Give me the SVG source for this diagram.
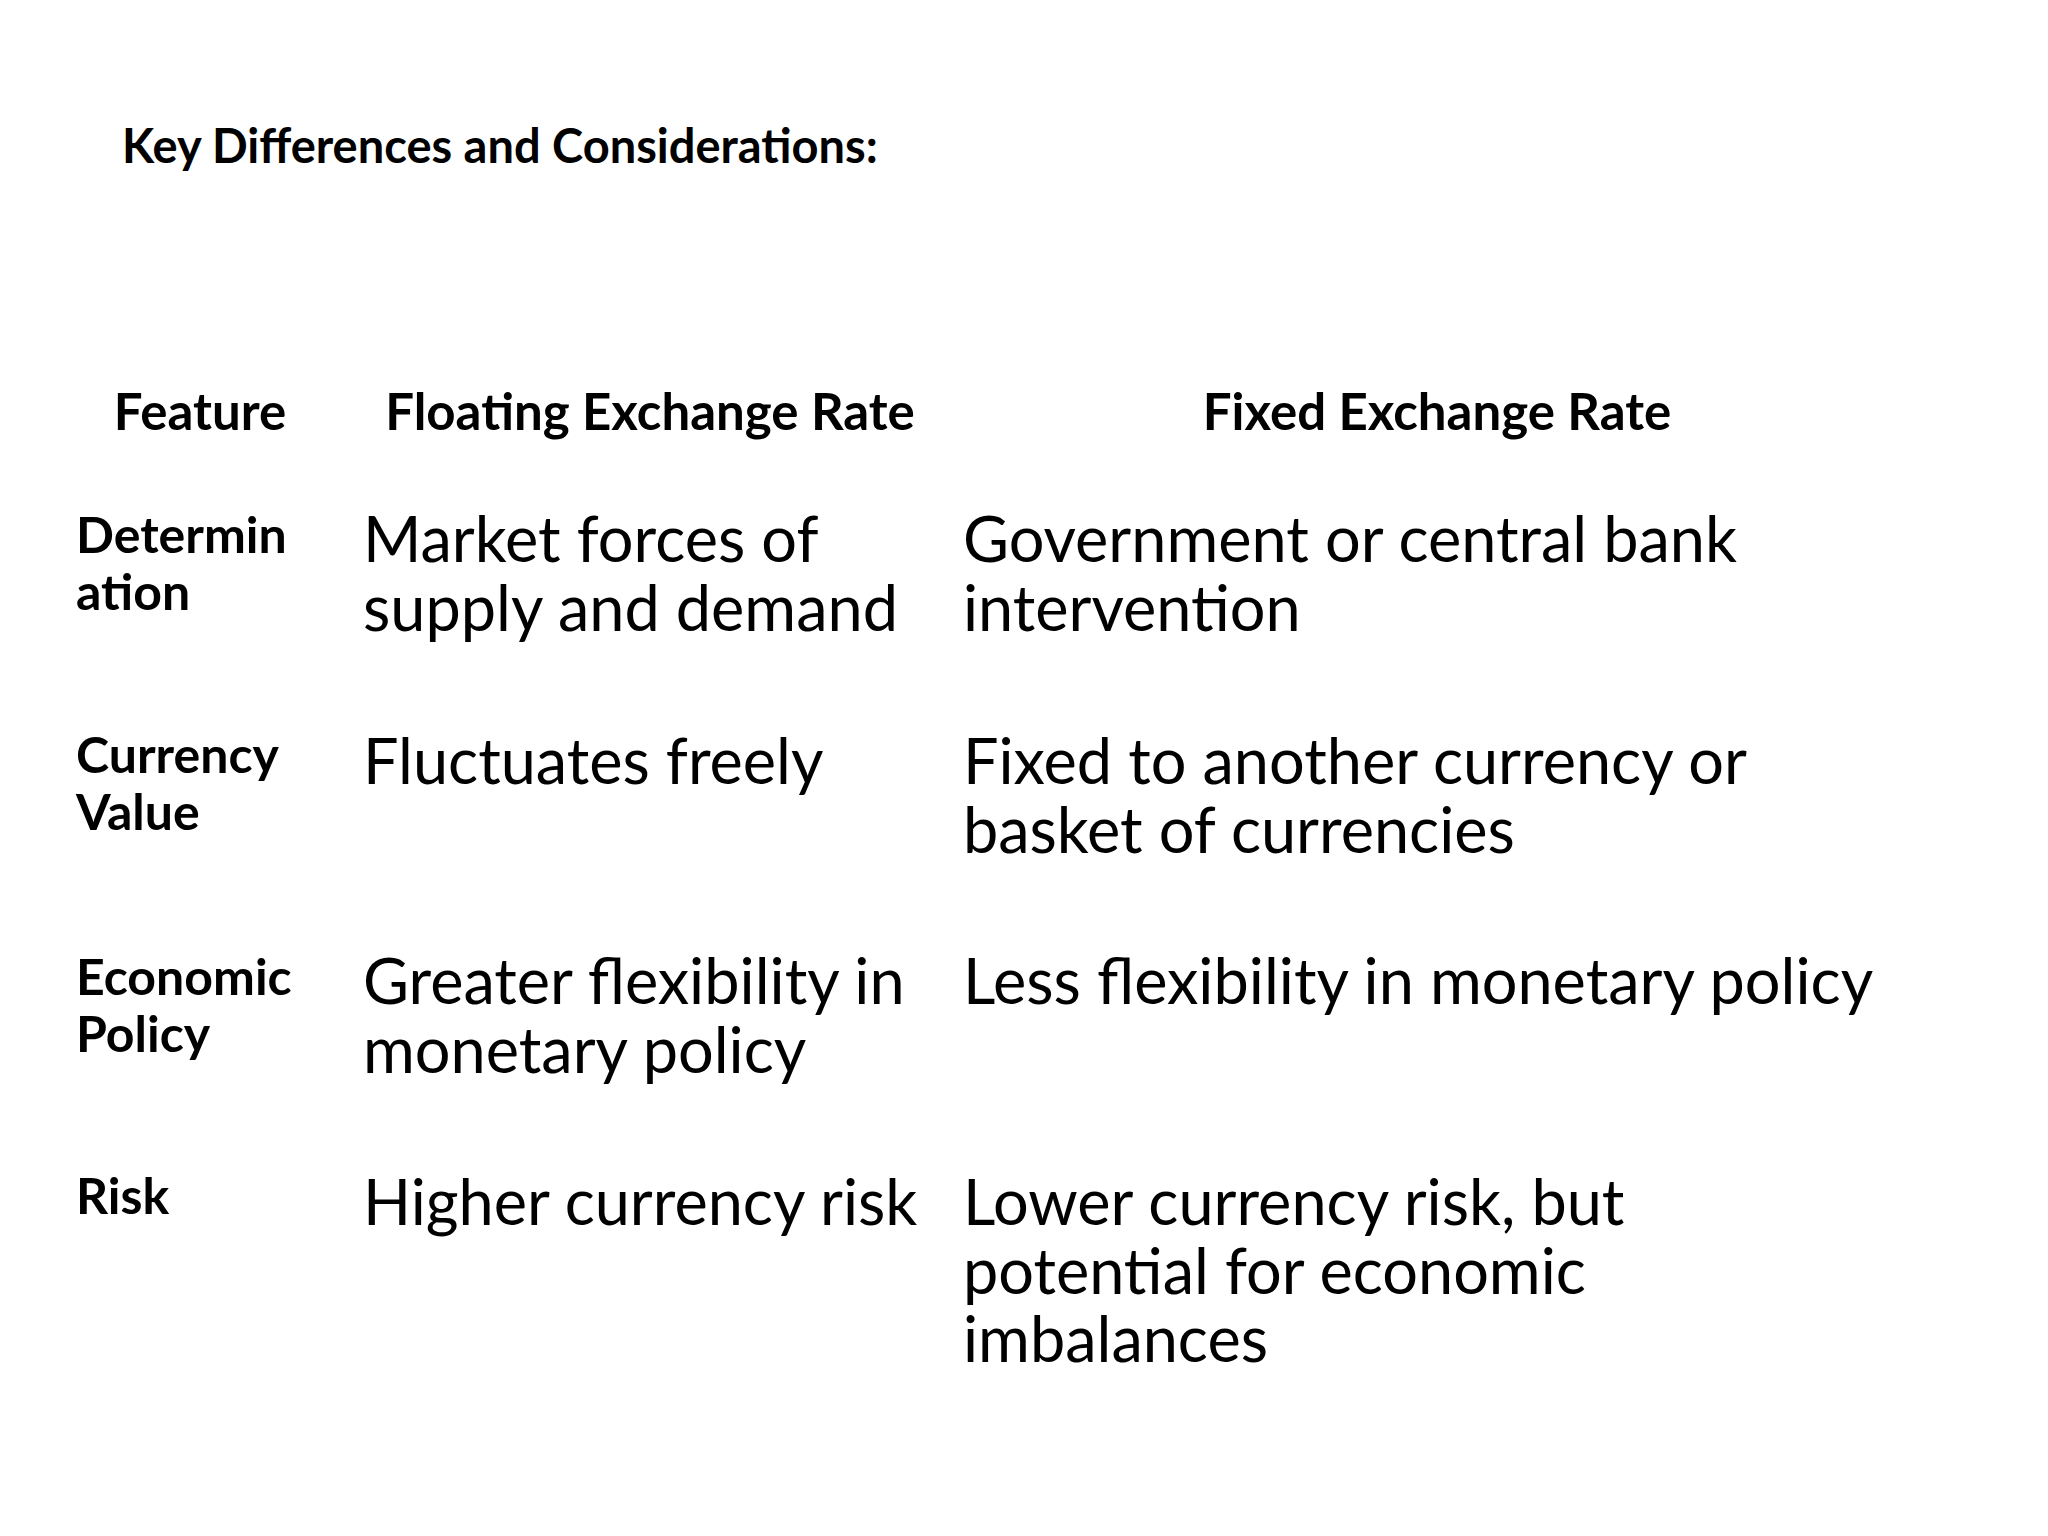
<svg xmlns="http://www.w3.org/2000/svg" width="2048" height="1536" viewBox="0 0 2048 1536">
<style>
text{font-family:Lato,"Noto Sans",sans-serif;fill:#000}
.t{font-weight:bold;font-size:47px}
.h{font-weight:bold;font-size:51px}
.l{font-weight:bold;font-size:50px}
.b{font-size:63px}
</style>
<rect width="2048" height="1536" fill="#fff"/>
<text class="t" x="122" y="163">Key Differences and Considerations:</text>
<g id="header">
<text class="h" x="200" y="430" text-anchor="middle">Feature</text>
<text class="h" x="650" y="430" text-anchor="middle">Floating Exchange Rate</text>
<text class="h" x="1437" y="430" text-anchor="middle">Fixed Exchange Rate</text>
</g>
<g id="row1">
<text class="l" x="76" y="553">Determin</text><text class="l" x="76" y="610">ation</text>
<text class="b" x="363" y="562">Market forces of</text><text class="b" x="363" y="631">supply and demand</text>
<text class="b" x="963" y="562">Government or central bank</text><text class="b" x="963" y="631">intervention</text>
</g>
<g id="row2">
<text class="l" x="76" y="773">Currency</text><text class="l" x="76" y="830">Value</text>
<text class="b" x="363" y="784">Fluctuates freely</text>
<text class="b" x="963" y="784">Fixed to another currency or</text><text class="b" x="963" y="853">basket of currencies</text>
</g>
<g id="row3">
<text class="l" x="76" y="995">Economic</text><text class="l" x="76" y="1052">Policy</text>
<text class="b" x="363" y="1004">Greater flexibility in</text><text class="b" x="363" y="1073">monetary policy</text>
<text class="b" x="963" y="1004">Less flexibility in monetary policy</text>
</g>
<g id="row4">
<text class="l" x="76" y="1214">Risk</text>
<text class="b" x="363" y="1225">Higher currency risk</text>
<text class="b" x="963" y="1225">Lower currency risk, but</text><text class="b" x="963" y="1294">potential for economic</text><text class="b" x="963" y="1362">imbalances</text>
</g>
<g id="connectors"/>
</svg>
